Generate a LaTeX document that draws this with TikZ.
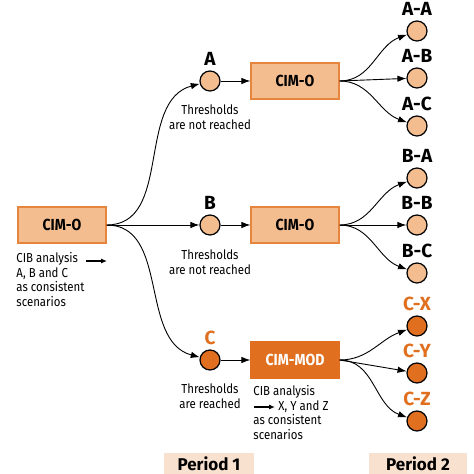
\documentclass[tikz,border=0pt]{standalone}
\usepackage{fontspec}
\setmainfont{Fira Sans}
\newfontfamily\notefont{Fira Sans}[FakeStretch=0.88]
\usetikzlibrary{arrows.meta}
\definecolor{peach}{HTML}{F4BD8F}
\definecolor{peachline}{HTML}{E5853E}
\definecolor{rust}{HTML}{E0701F}
\definecolor{pale}{HTML}{F9E1CF}
\begin{document}
\begin{tikzpicture}[x=1pt,y=1pt,>={Latex[length=9pt,width=6.5pt]},line width=0.9pt,
		box/.style={draw=peachline,fill=peach,line width=1.2pt,minimum width=88pt,minimum height=36pt,font=\notefont\fontsize{16}{16}\selectfont\bfseries},
		modbox/.style={box,draw=rust,fill=rust,text=white},
		dot/.style={circle,draw,fill=peach,line width=1.2pt,minimum size=20pt,inner sep=0pt},
		cdot/.style={dot,fill=rust},
		lbl/.style={font=\fontsize{19}{19}\selectfont\bfseries,label distance=1pt},
		note/.style={font=\notefont\fontsize{13}{14.5}\selectfont,align=center},
		block/.style={font=\notefont\fontsize{13}{14.5}\selectfont,align=left,anchor=north west,inner sep=0pt},
		small/.style={-{Latex[length=6pt,width=5pt]},line width=1.1pt},
		period/.style={fill=pale,minimum width=90pt,minimum height=21pt,font=\fontsize{17}{17}\selectfont\bfseries}]
		\useasboundingbox (0,0) rectangle (474,474);
		% Period 1
		\node[box] (root) at (62,249) {CIM-O};
		\node[block] (rootnote) at (16,222) {CIB analysis\\A, B and C\\as consistent\\scenarios};
		\coordinate (rs) at (86,213);
		\coordinate (re) at (107,213);
		\draw[small] (rs)--(re);
		\node[dot,label={[lbl]above:A}] (a) at (210,393) {};
		\node[dot,label={[lbl]above:B}] (b) at (210,249) {};
		\node[cdot,label={[lbl,text=rust]above:C}] (c) at (210,114) {};
		\node[note] (na) at (210,357) {Thresholds\\are not reached};
		\node[note] (nb) at (210,212) {Thresholds\\are not reached};
		\node[note] (nc) at (210,78) {Thresholds\\are reached};
		\node[box] (boxa) at (295,393) {CIM-O};
		\node[box] (boxb) at (295,249) {CIM-O};
		\node[modbox] (boxc) at (295,114) {CIM-MOD};
		\node[block] (modnote) at (253,89) {CIB analysis\\\hspace*{25pt}X, Y and Z\\as consistent\\scenarios};
		\coordinate (ms) at (254,67);
		\coordinate (me) at (275,67);
		\draw[small] (ms)--(me);
		\draw[->] (root.east) to[out=0,in=195] (a);
		\draw[->] (root.east)--(b);
		\draw[->] (root.east) to[out=0,in=165] (c);
		\draw[->] (a)--(boxa);
		\draw[->] (b)--(boxb);
		\draw[->] (c)--(boxc);
		% Period 2
		\foreach \n/\y/\t in {aa/443/A-A,ab/396/A-B,ac/348/A-C,ba/296/B-A,bb/249/B-B,bc/201/B-C}
			\node[dot,label={[lbl]above:\t}] (\n) at (417,\y) {};
		\foreach \n/\y/\t in {cx/148/C-X,cy/101/C-Y,cz/53/C-Z}
			\node[cdot,label={[lbl,text=rust]above:\t}] (\n) at (417,\y) {};
		\foreach \s/\u/\v/\w in {boxa/aa/ab/ac,boxb/ba/bb/bc,boxc/cx/cy/cz}{
			\draw[->] (\s.east) to[out=0,in=200] (\u);
			\draw[->] (\s.east)--(\v);
			\draw[->] (\s.east) to[out=0,in=160] (\w);
		}
		\node[period] (p1) at (209,10.5) {Period 1};
		\node[period,minimum width=98pt] (p2) at (418,10.5) {Period 2};
	\end{tikzpicture}
\end{document}
